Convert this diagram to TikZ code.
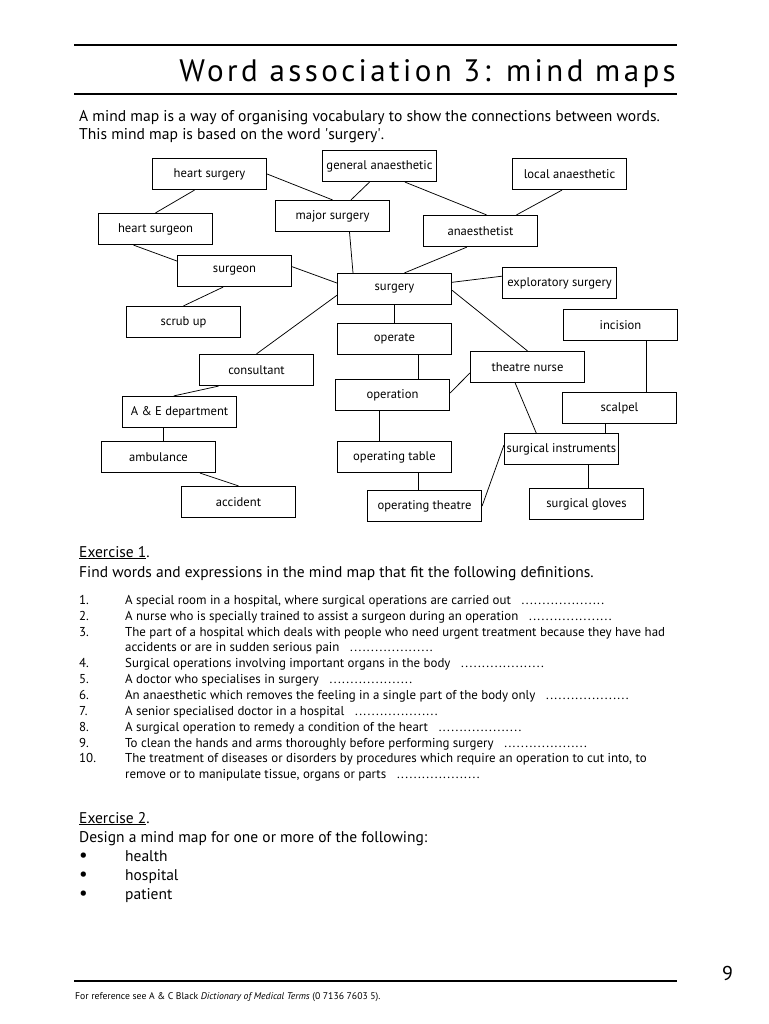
\documentclass[tikz,border=0pt]{standalone}
\usepackage{fontspec}
\setmainfont{PT Sans}
\newfontfamily\titlefont[LetterSpace=11]{PT Sans}
\newfontfamily\straightfont[Ligatures=TeXOff]{PT Sans}
\newcommand{\sq}{{\straightfont'}}
\newcommand{\blankdots}{\hbox to 84pt{\leaders\hbox to 4.2pt{\hss.\hss}\hfill}}
\newcommand{\gapdots}{\hspace{10pt}\blankdots}
\begin{document}
\begin{tikzpicture}[x=1pt,y=-1pt,
  box/.style={draw, line width=1.2pt, minimum width=114pt, minimum height=31pt, inner sep=0pt,
    font=\fontsize{12.6}{14}\selectfont},
  link/.style={line width=0.75pt},
  rulebar/.style={line width=2.7pt},
  txt/.style={anchor=base west, inner sep=0pt},
  big/.style={font=\fontsize{15.5}{18}\selectfont},
  small/.style={font=\fontsize{12.9}{15}\selectfont}]
\useasboundingbox (0,0) rectangle (768,1024);
\fill[white] (0,0) rectangle (768,1024);

% header
\draw[rulebar] (74,45) -- (677,45);
\draw[rulebar] (74,94) -- (677,94);
\node[anchor=base east, inner sep=0pt] (title) at (676,82) {\titlefont\fontsize{31}{35}\selectfont Word association 3: mind maps};
\node[txt,big,font=\fontsize{15.6}{18}\selectfont] (intro1) at (79,122) {A mind map is a way of organising vocabulary to show the connections between words.};
\node[txt,big,font=\fontsize{15.6}{18}\selectfont] (intro2) at (79,140) {This mind map is based on the word \sq surgery\sq.};

% mind map boxes
\node[box] (hsurg)    at (209.5,174)   {heart surgery};
\node[box] (genan)    at (379.5,166)   {general anaesthetic};
\node[box] (locan)    at (569.5,174)   {local anaesthetic};
\node[box] (hsurgeon) at (155.5,229)   {heart surgeon};
\node[box] (major)    at (332.5,216)   {major surgery};
\node[box] (anaes)    at (480.5,231)   {anaesthetist};
\node[box] (surgeon)  at (234.5,271)   {surgeon};
\node[box] (surgery)  at (394.5,289)   {surgery};
\node[box] (explor)   at (559.5,283)   {exploratory surgery};
\node[box] (scrub)    at (183.5,322)   {scrub up};
\node[box] (incision) at (620.5,325)   {incision};
\node[box] (operate)  at (394.5,339)   {operate};
\node[box] (consult)  at (256.5,370)   {consultant};
\node[box] (tnurse)   at (527.5,367)   {theatre nurse};
\node[box] (operation) at (392.5,395)  {operation};
\node[box] (ae)       at (179.5,412)   {A \& E department};
\node[box] (scalpel)  at (619.5,408)   {scalpel};
\node[box] (instr)    at (561.5,449)   {surgical instruments};
\node[box] (ambul)    at (158.5,457)   {ambulance};
\node[box] (optable)  at (394.5,457)   {operating table};
\node[box] (accident) at (238.5,502)   {accident};
\node[box] (optheatre) at (424.5,506)  {operating theatre};
\node[box] (gloves)   at (586.5,504)   {surgical gloves};

% connectors
\draw[link] (hsurg.east) -- (major.north);
\draw[link] ([xshift=-15pt]hsurg.south) -- (hsurgeon.north);
\draw[link] ([xshift=-10pt]genan.south) -- ([xshift=18.5pt]major.north);
\draw[link] ([xshift=25.5pt]genan.south) -- ([xshift=6pt]anaes.north);
\draw[link] ([xshift=-7.5pt]locan.south) -- ([xshift=36pt]anaes.north);
\draw[link] ([xshift=17pt]major.south) -- ([xshift=-41.5pt]surgery.north);
\draw[link] ([xshift=-13.6pt]anaes.south) -- ([xshift=10pt]surgery.north);
\draw[link] ([xshift=-22pt]hsurgeon.south) -- ([yshift=10pt]surgeon.west);
\draw[link] ([yshift=4.3pt]surgeon.east) -- ([yshift=6pt]surgery.west);
\draw[link] ([xshift=-11.4pt]surgeon.south) -- (scrub.north);
\draw[link] ([yshift=6.7pt]surgery.east) -- ([yshift=6.8pt]explor.west);
\draw[link] ([yshift=-1.3pt]surgery.east) -- (tnurse.north);
\draw[link] (surgery.south) -- (surgery.south |- operate.north);
\draw[link] ([yshift=-6.3pt]surgery.west) -- (consult.north);
\draw[link] ([xshift=26pt]incision.south) -- ([xshift=26pt]incision.south |- scalpel.north);
\draw[link] ([xshift=24pt]operate.south) -- ([xshift=24pt]operate.south |- operation.north);
\draw[link] ([yshift=2pt]operation.east) -- ([yshift=-6pt]tnurse.west);
\draw[link] ([xshift=-38pt]consult.south) -- ([xshift=-5.7pt]ae.north);
\draw[link] ([xshift=-16pt]ae.south) -- ([xshift=-16pt]ae.south |- ambul.north);
\draw[link] ([xshift=41.5pt]ambul.south) -- (accident.north);
\draw[link] ([xshift=-13pt]operation.south) -- ([xshift=-13pt]operation.south |- optable.north);
\draw[link] ([xshift=24pt]optable.south) -- ([xshift=24pt]optable.south |- optheatre.north);
\draw[link] ([xshift=-12.3pt]tnurse.south) -- ([xshift=-25.3pt]instr.north);
\draw[link] ([xshift=-14pt]scalpel.south) -- ([xshift=-14pt]scalpel.south |- instr.north);
\draw[link] ([xshift=27pt]instr.south) -- ([xshift=27pt]instr.south |- gloves.north);
\draw[link] (optheatre.east) -- ([yshift=3.8pt]instr.west);

% exercise 1
\node[txt,big] (ex1) at (79,557) {\underline{Exercise 1}.};
\node[txt,big] (ex1q) at (79,577) {Find words and expressions in the mind map that fit the following definitions.};
\foreach \n/\y/\t in {
 1/604/{A special room in a hospital, where surgical operations are carried out\gapdots},
 2/620/{A nurse who is specially trained to assist a surgeon during an operation\gapdots},
 3/636/{The part of a hospital which deals with people who need urgent treatment because they have had},
 4/667/{Surgical operations involving important organs in the body\gapdots},
 5/683/{A doctor who specialises in surgery\gapdots},
 6/699/{An anaesthetic which removes the feeling in a single part of the body only\gapdots},
 7/715/{A senior specialised doctor in a hospital\gapdots},
 8/731/{A surgical operation to remedy a condition of the heart\gapdots},
 9/747/{To clean the hands and arms thoroughly before performing surgery\gapdots},
 10/762/{The treatment of diseases or disorders by procedures which require an operation to cut into, to}}{
  \node[txt,small] (num\n) at (79,\y) {\n.};
  \node[txt,small] (item\n) at (125,\y) {\t};
}
\node[txt,small] (item3b) at (125,651) {accidents or are in sudden serious pain\gapdots};
\node[txt,small] (item10b) at (125,778) {remove or to manipulate tissue, organs or parts\gapdots};

% exercise 2
\node[txt,big] (ex2) at (79,823) {\underline{Exercise 2}.};
\node[txt,big] (ex2q) at (79,842) {Design a mind map for one or more of the following:};
\foreach \w/\y in {health/861, hospital/880, patient/899}{
  \node[txt,big] (b\w) at (79,\y) {\fontsize{19}{18}\selectfont •};
  \node[txt,big] (w\w) at (125,\y) {\w};
}

% footer
\draw[rulebar, line width=2.2pt] (74,981) -- (677,981);
\node[anchor=base west, inner sep=0pt] (pagenum) at (722,980) {\fontsize{20}{24}\selectfont 9};
\node[txt] (footer) at (75,999) {\fontsize{9.7}{11}\selectfont For reference see A \& C Black \textit{Dictionary of Medical Terms} (0 7136 7603 5).};
\end{tikzpicture}
\end{document}
